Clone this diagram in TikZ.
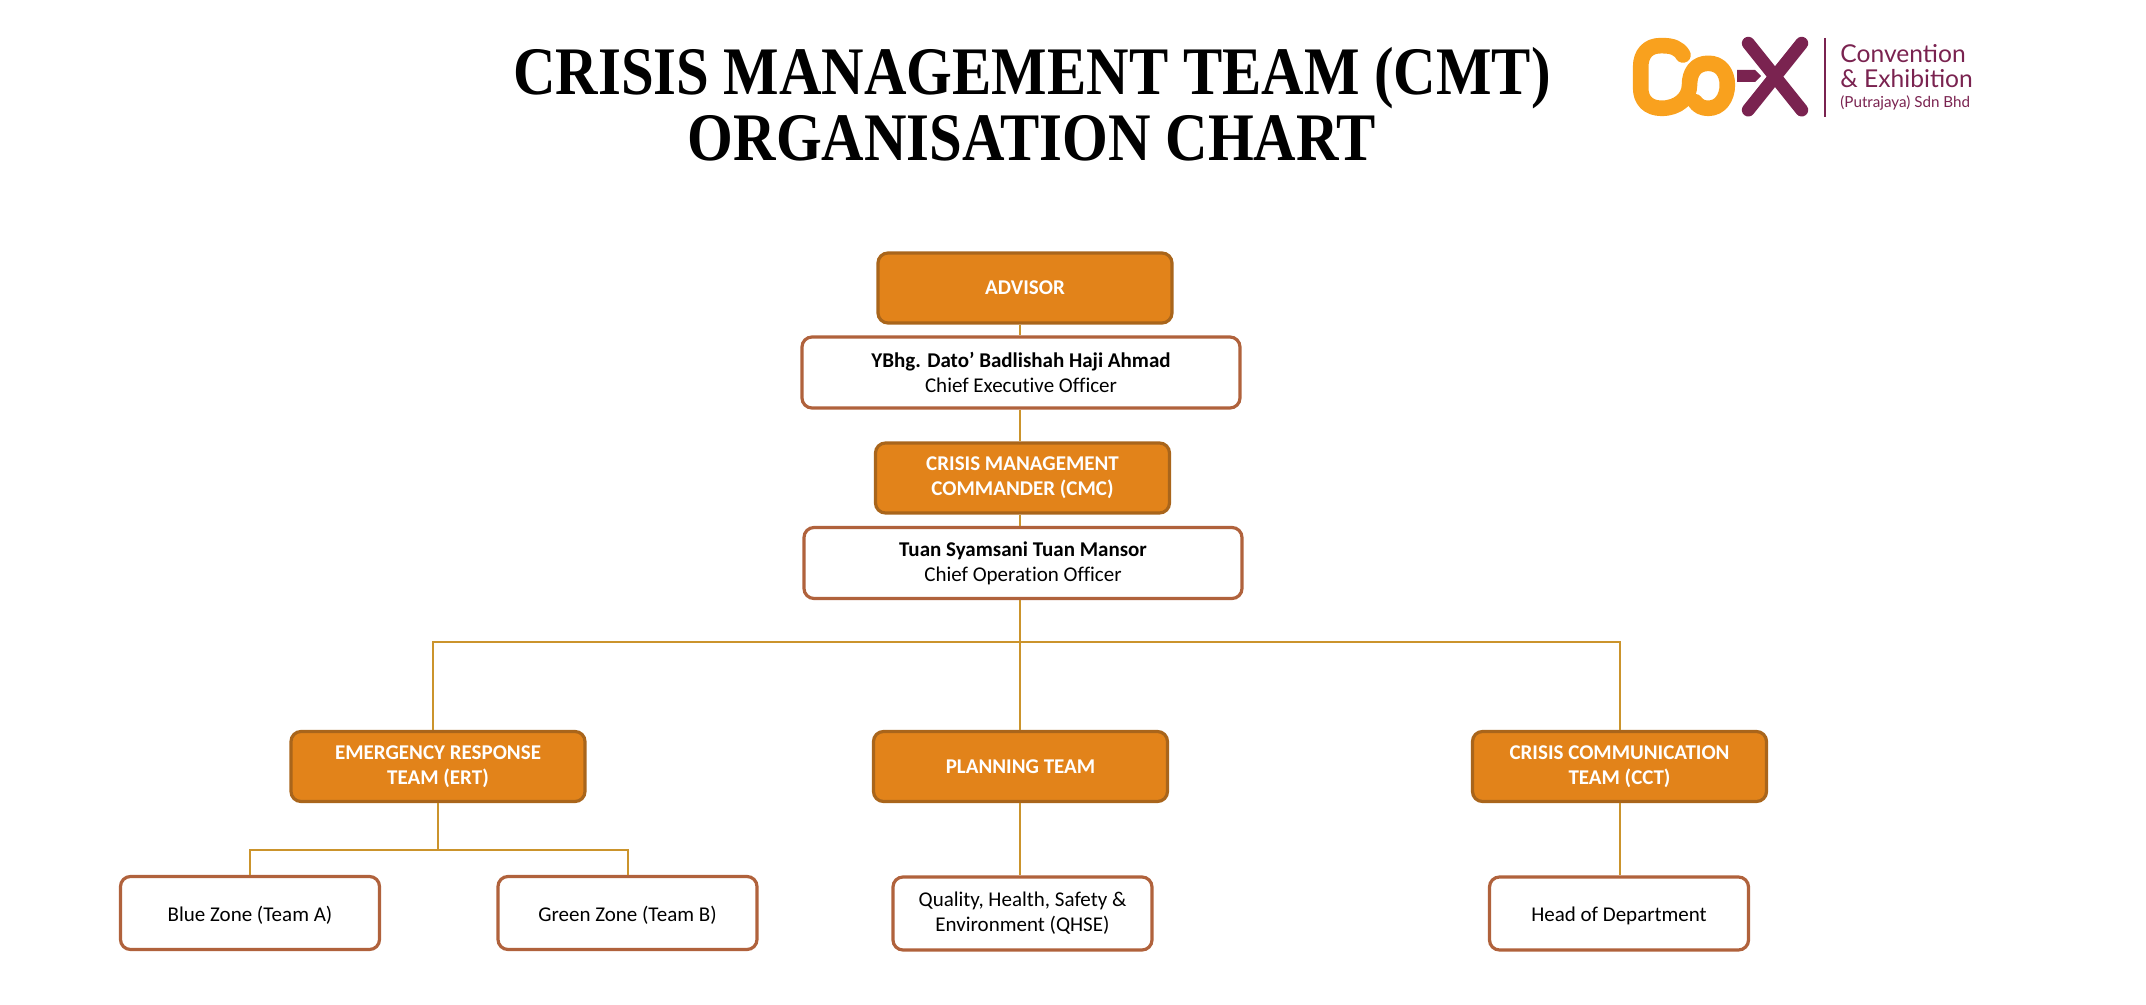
\documentclass[tikz,border=0pt]{standalone}
\usepackage{fontspec}
\setmainfont{Carlito}[Ligatures=NoCommon]
\newfontfamily\titlefont{Liberation Serif}[FakeStretch=0.865]
\newfontfamily\logofont{Lato}
\definecolor{fillor}{HTML}{E2831A}
\definecolor{edgeor}{HTML}{A9651B}
\definecolor{edgewh}{HTML}{B0623C}
\definecolor{linkc}{HTML}{CB942C}
\definecolor{logoor}{HTML}{F9A11E}
\definecolor{logopu}{HTML}{7A2350}
\tikzset{
  x=0.5pt,y=-0.5pt,
  base/.style={rounded corners=5pt,line width=1.6pt,align=center,inner sep=0pt,font=\fontsize{10.5}{12.6}\selectfont},
  drop/.style={execute at begin node={\rule{0pt}{10pt}}},
  head/.style={base,draw=edgeor,fill=fillor,text=white,font=\fontsize{10.5}{12.6}\selectfont\bfseries,minimum width=147pt,minimum height=35pt},
  person/.style={base,draw=edgewh,fill=white,text=black,minimum width=219pt,minimum height=35.5pt},
  leaf/.style={base,drop,draw=edgewh,fill=white,text=black,minimum width=129.5pt,minimum height=36.5pt},
  link/.style={draw=linkc,line width=1pt},
  ttl/.style={font=\titlefont\fontsize{34}{34}\selectfont\bfseries,inner sep=0pt,text=black,anchor=base},
  logotext/.style={text=logopu,inner sep=0pt,anchor=base west},
}
\begin{document}
\begin{tikzpicture}
\useasboundingbox (0,0) rectangle (2146,1005);
\node[ttl] (t1) at (1032,95) {CRISIS MANAGEMENT TEAM (CMT)};
\node[ttl] (t2) at (1032,161) {ORGANISATION CHART};
% logo
\begin{scope}[line cap=round,line join=round]
\draw[logoor,line width=7.8pt] (1683,55) .. controls (1679,48) and (1672,45.7) .. (1663.3,45.7) -- (1660,45.7) .. controls (1648,45.7) and (1640.7,54) .. (1640.7,66.7) -- (1640.7,88.3) .. controls (1640.7,100) and (1648,108.3) .. (1661.7,108.3) .. controls (1678,108.3) and (1689.5,98) .. (1689.5,85) .. controls (1689.5,72) and (1696,63.3) .. (1708.3,63.3) .. controls (1720,63.3) and (1727.3,72) .. (1727.3,85) .. controls (1727.3,98) and (1720,108.3) .. (1708.3,108.3) .. controls (1702,108.3) and (1698,106) .. (1695,101.7);
\draw[logopu,line width=6.5pt] (1748.3,43.3) -- (1801.7,110) (1801.7,43.3) -- (1748.3,110);
\end{scope}
\fill[logopu] (1737,70) -- (1755,70) -- (1761,76) -- (1755,82) -- (1737,82) -- cycle;
\draw[logopu,line width=1pt] (1825,38) -- (1825,117);
\node[logotext,font=\logofont\fontsize{12.3}{14}\selectfont] (l1) at (1840,63) {Convention};
\node[logotext,font=\logofont\fontsize{12.3}{14}\selectfont] (l2) at (1840,88) {\& Exhibition};
\node[logotext,font=\logofont\fontsize{7.6}{8}\selectfont] (l3) at (1840,108) {(Putrajaya) Sdn Bhd};
% boxes
\node[head] (advisor) at (1025,288) {ADVISOR};
\node[person] (ceo) at (1021,372.5) {\textbf{YBhg. Dato’ Badlishah Haji Ahmad}\\Chief Executive Officer};
\node[head] (cmc) at (1022.5,478) {CRISIS MANAGEMENT\\COMMANDER (CMC)};
\node[person] (coo) at (1023,563) {\textbf{Tuan Syamsani Tuan Mansor}\\Chief Operation Officer};
\node[head] (ert) at (438,766.5) {EMERGENCY RESPONSE\\TEAM (ERT)};
\node[head] (plan) at (1020.5,766.5) {PLANNING TEAM};
\node[head] (cct) at (1619.5,766.5) {CRISIS COMMUNICATION\\TEAM (CCT)};
\node[leaf] (blue) at (250,913) {Blue Zone (Team A)};
\node[leaf] (green) at (627.5,913) {Green Zone (Team B)};
\node[leaf] (qhse) at (1022.5,913.5) {Quality, Health, Safety \&\\Environment (QHSE)};
\node[leaf] (hod) at (1619,913.5) {Head of Department};
% routing points
\coordinate (spine) at (1020,642);
\coordinate (ertbus) at (438,850);
\coordinate (ertdrop) at (433,642);
% connectors
\draw[link] (advisor.south -| spine) -- (ceo.north -| spine);
\draw[link] (ceo.south -| spine) -- (cmc.north -| spine);
\draw[link] (cmc.south -| spine) -- (coo.north -| spine);
\draw[link] (coo.south -| spine) -- (plan.north -| spine);
\draw[link] (ert.north -| ertdrop) -- (ertdrop) -- (cct.north |- spine) -- (cct.north);
\draw[link] (plan.south -| spine) -- (qhse.north -| spine);
\draw[link] (cct.south) -- (hod.north -| cct.south);
\draw[link] (ert.south) -- (ertbus);
\draw[link] (blue.north) -- (blue.north |- ertbus) -- (green.north |- ertbus) -- (green.north);
\end{tikzpicture}
\end{document}
